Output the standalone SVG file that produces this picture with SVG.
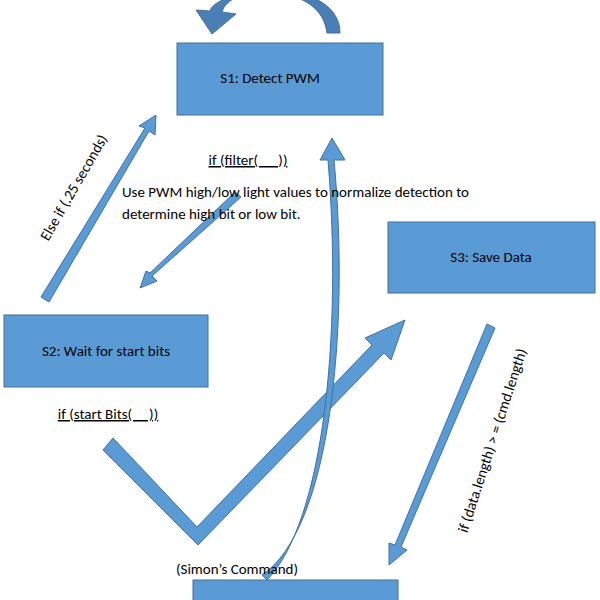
<svg xmlns="http://www.w3.org/2000/svg" width="600" height="600" viewBox="0 0 600 600">
<style>
.box{fill:#5b9bd5;stroke:#41719c;stroke-width:1}
.arr{fill:#5b9bd5;stroke:#41719c;stroke-width:1}
.t{font-family:Calibri,"Liberation Sans",sans-serif;font-size:15px;fill:#000}
.u{text-decoration:underline}
</style>
<rect width="600" height="600" fill="#fff"/>
<g id="connectors">
<path d="M340 33 C340 -20 230 -20 222 12 L236 14 L212 34 L196 10 L210 11 C215 -10 320 -25 327 33 Z" fill="#4a7fb5" stroke="#41719c"/>
<polygon class="arr" points="41,297 49,302 149,131 155,135 156,115 139,126 145,128"/>
<polygon class="arr" points="235,192 241,197 152,276 157,281 140,288 146,271 150,273"/>
<polygon class="arr" points="103,450 113,438 197,527 372,345 365,338 405,320 391,360 384,353 198,545"/>
<path class="arr" d="M262 575 C330 530 350 330 334 160 L345 160 L332 138 L320 160 L328 160 C342 330 325 520 267 580 Z"/>
<polygon class="arr" points="487,324 495,328 401,547 407,550 389,565 389,543 395,545"/>
</g>
<g id="s1"><rect class="box" x="177" y="43" width="206" height="72"/><text class="t" x="270" y="83" text-anchor="middle">S1: Detect PWM</text></g>
<g id="s2"><rect class="box" x="4" y="315" width="204" height="72"/><text class="t" x="106" y="356" text-anchor="middle">S2: Wait for start bits</text></g>
<g id="s3"><rect class="box" x="388" y="222" width="207" height="71"/><text class="t" x="491" y="262" text-anchor="middle">S3: Save Data</text></g>
<g id="s4"><rect class="box" x="193" y="580" width="205" height="30"/></g>
<g id="labels">
<text class="t u" x="248" y="165" text-anchor="middle" xml:space="preserve">if (filter(      ))</text>
<text class="t" x="122" y="197" font-size="14">Use PWM high/low light values to normalize detection to</text>
<text class="t" x="122" y="219" font-size="14">determine high bit or low bit.</text>
<text class="t u" x="108" y="419" text-anchor="middle" xml:space="preserve">if (start Bits(     ))</text>
<text class="t" x="237" y="574" text-anchor="middle">(Simon’s Command)</text>
<text class="t" transform="translate(78,190) rotate(-60)" text-anchor="middle">Else if (.25 seconds)</text>
<text class="t" transform="translate(497,442) rotate(-72)" text-anchor="middle">if (data.length) &gt; = (cmd.length)</text>
</g>
</svg>
